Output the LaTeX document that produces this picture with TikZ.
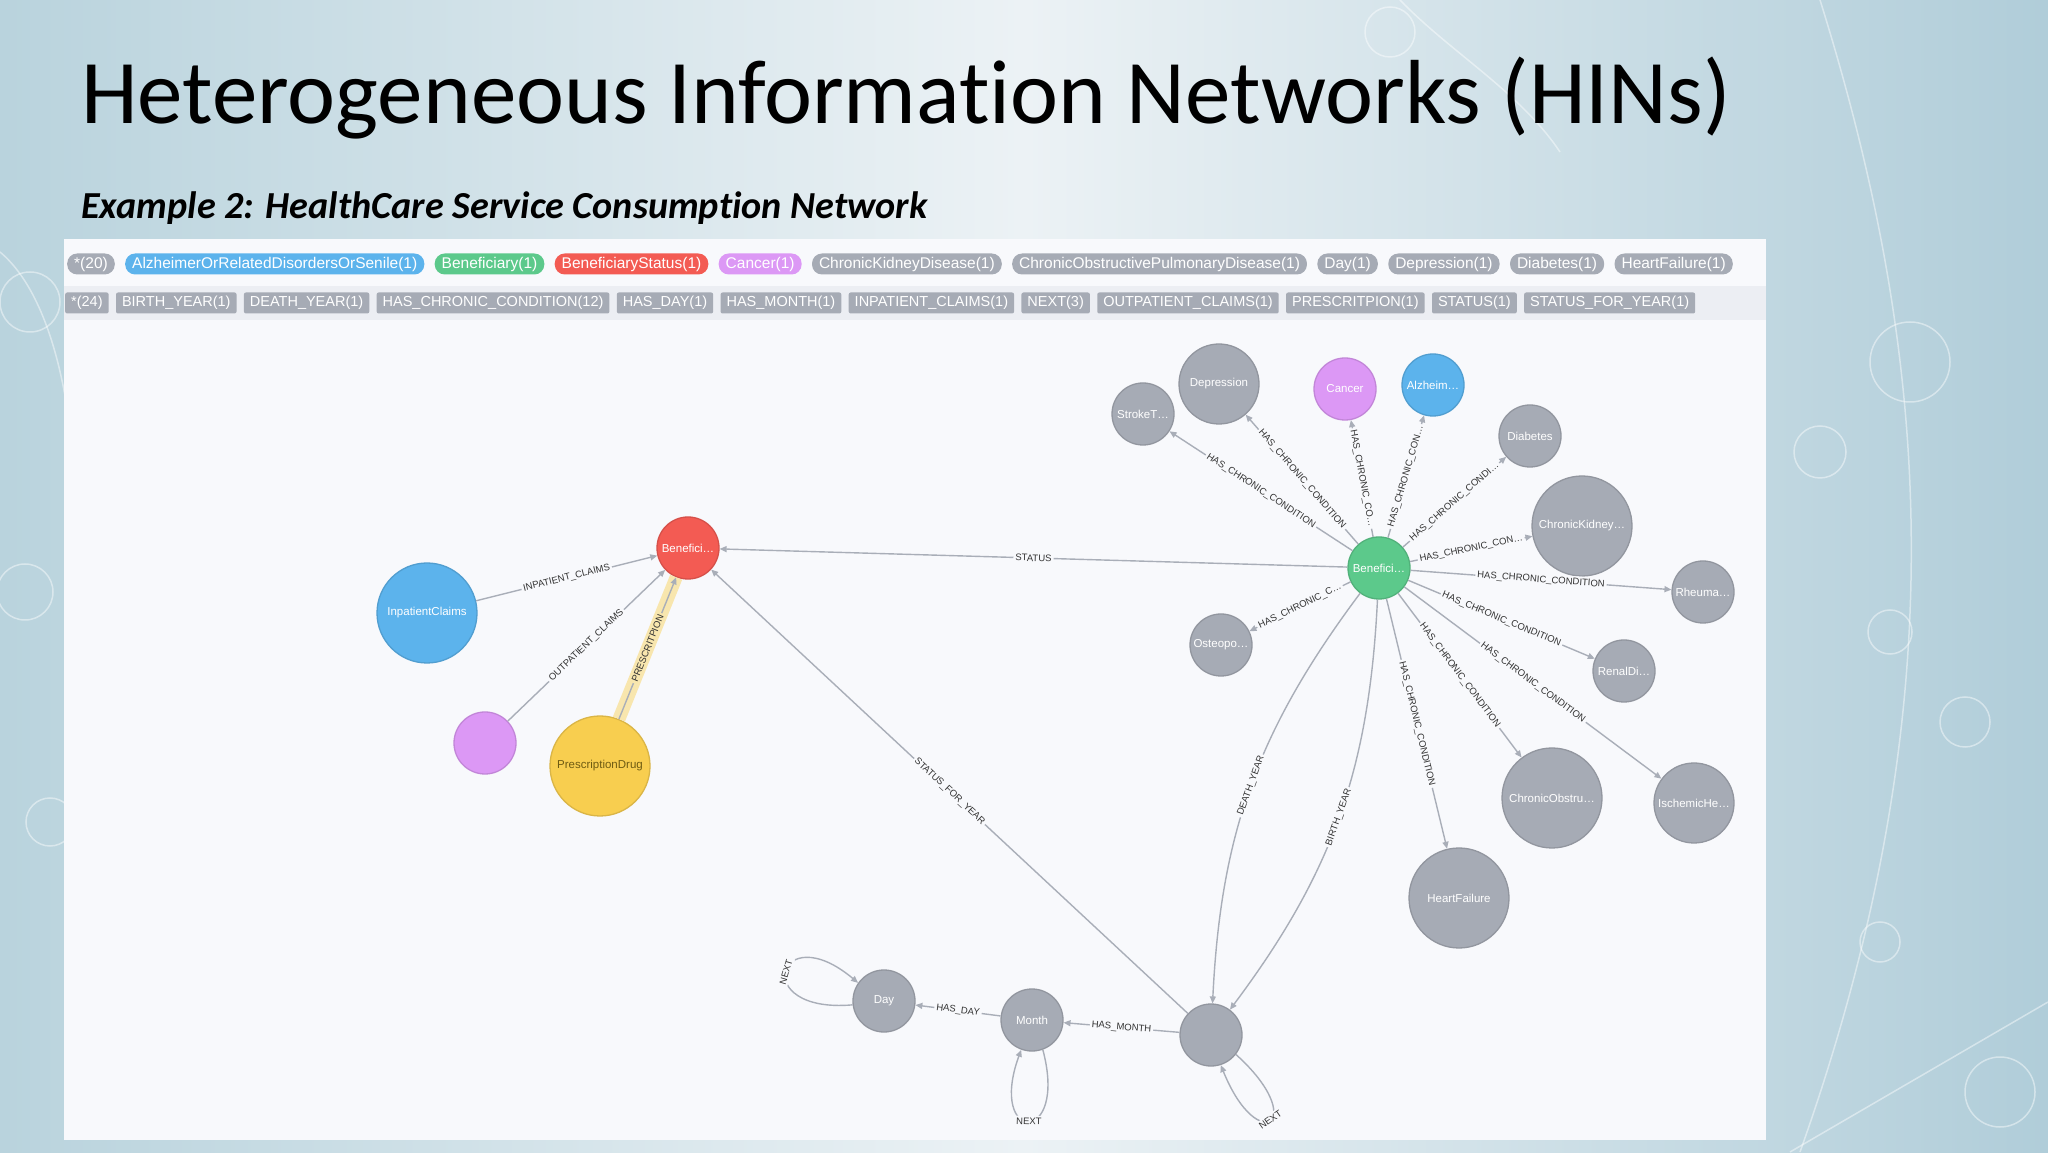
\documentclass[tikz,border=0pt]{standalone}
\usepackage{fontspec}
\setmainfont{Liberation Sans}
\newfontfamily\slidefont[Ligatures=CommonOff]{Carlito}
\usetikzlibrary{arrows.meta,positioning}

\definecolor{bgside}{HTML}{B9D3DD}
\definecolor{bgmid}{HTML}{ECF2F5}
\definecolor{bgright}{HTML}{B0CDD9}
\definecolor{panel}{HTML}{F8F9FC}
\definecolor{band}{HTML}{ECEEF3}
\definecolor{nblue}{HTML}{5CB3EC}
\definecolor{ngreen}{HTML}{5CC98B}
\definecolor{nred}{HTML}{F35B53}
\definecolor{npurple}{HTML}{DC98F5}
\definecolor{ngray}{HTML}{A6ABB5}
\definecolor{nyellow}{HTML}{F8CE4F}
\definecolor{wire}{HTML}{A9AEB8}
\definecolor{druglabel}{HTML}{6E5B12}

\begin{document}
\begin{tikzpicture}[x=1pt, y=1pt,
    pill/.style={rounded corners=10pt, minimum height=21pt, inner xsep=7pt, inner ysep=0pt, text=white, font=\fontsize{15.5}{15.5}\selectfont},
    tab/.style={rounded corners=2pt, minimum height=21pt, inner xsep=6pt, inner ysep=0pt, fill=ngray, text=white, font=\fontsize{14.5}{14.5}\selectfont},
    ent/.style={circle, line width=1.3pt, inner sep=0pt, text=white, font=\fontsize{11.5}{11.5}\selectfont},
    sm/.style={minimum size=62pt},
    md/.style={minimum size=80pt},
    lg/.style={minimum size=100pt},
    grayent/.style={ent, fill=ngray, draw=ngray!88!black},
    blueent/.style={ent, fill=nblue, draw=nblue!88!black},
    greenent/.style={ent, fill=ngreen, draw=ngreen!88!black},
    redent/.style={ent, fill=nred, draw=nred!88!black},
    purpleent/.style={ent, fill=npurple, draw=npurple!88!black},
    yellowent/.style={ent, fill=nyellow, draw=nyellow!88!black, text=druglabel},
    link/.style={draw=wire, line width=1.4pt, -{Triangle[length=7pt, width=6pt]}},
    tag/.style={sloped, fill=panel, inner sep=2pt, text=black!80, font=\fontsize{9.5}{9.5}\selectfont},
    glow/.style={line width=13pt, nyellow!45!panel},
    deco/.style={white, opacity=0.45, line width=1.5pt}
]
\useasboundingbox (0,0) rectangle (2048,1152);
\shade[left color=bgside, right color=bgright, middle color=bgmid] (0,0) rectangle (2048,1152);

\draw[deco] (1820,1152) .. controls (1930,800) and (1960,450) .. (1800,0);
\draw[deco] (1790,0) -- (2048,150);
\draw[deco] (1400,1152) .. controls (1450,1100) and (1520,1060) .. (1560,1000);
\draw[deco] (0,900) .. controls (60,850) and (90,700) .. (70,500);
\draw[deco] (1820,700) circle (26);
\draw[deco] (1910,790) circle (40);
\draw[deco] (1890,520) circle (22);
\draw[deco] (1965,430) circle (25);
\draw[deco] (1880,210) circle (20);
\draw[deco] (2000,60) circle (35);
\draw[deco] (30,850) circle (30);
\draw[deco] (25,560) circle (28);
\draw[deco] (50,330) circle (24);
\draw[deco] (1390,1120) circle (25);

\fill[panel] (64,12) rectangle (1766,913);
\fill[band] (64,866) rectangle (1766,832);

\node[anchor=base west, inner sep=0pt, font=\slidefont\fontsize{91}{91}\selectfont] (title) at (81,1028) {Heterogeneous Information Networks (HINs)};
\node[anchor=base west, inner sep=0pt, font=\slidefont\bfseries\itshape\fontsize{38.2}{38.2}\selectfont] (subtitle) at (81,933) {Example 2: HealthCare Service Consumption Network};

\node[pill, fill=ngray, anchor=west] (allnodes) at (67,888) {*(20)};
\node[pill, fill=nblue, right=10pt of allnodes] (lalz) {AlzheimerOrRelatedDisordersOrSenile(1)};
\node[pill, fill=ngreen, right=10pt of lalz] (lbenef) {Beneficiary(1)};
\node[pill, fill=nred, right=10pt of lbenef] (lstat) {BeneficiaryStatus(1)};
\node[pill, fill=npurple, right=10pt of lstat] (lcancer) {Cancer(1)};
\node[pill, fill=ngray, right=10pt of lcancer] (lkidney) {ChronicKidneyDisease(1)};
\node[pill, fill=ngray, right=10pt of lkidney] (lcopd) {ChronicObstructivePulmonaryDisease(1)};
\node[pill, fill=ngray, right=10pt of lcopd] (lday) {Day(1)};
\node[pill, fill=ngray, right=10pt of lday] (ldepress) {Depression(1)};
\node[pill, fill=ngray, right=10pt of ldepress] (ldiab) {Diabetes(1)};
\node[pill, fill=ngray, right=10pt of ldiab] (lheart) {HeartFailure(1)};

\node[tab, anchor=west] (allrels) at (65,849) {*(24)};
\node[tab, right=7pt of allrels] (rbirth) {BIRTH\_YEAR(1)};
\node[tab, right=7pt of rbirth] (rdeath) {DEATH\_YEAR(1)};
\node[tab, right=7pt of rdeath] (rchronic) {HAS\_CHRONIC\_CONDITION(12)};
\node[tab, right=7pt of rchronic] (rday) {HAS\_DAY(1)};
\node[tab, right=7pt of rday] (rmonth) {HAS\_MONTH(1)};
\node[tab, right=7pt of rmonth] (rinpat) {INPATIENT\_CLAIMS(1)};
\node[tab, right=7pt of rinpat] (rnext) {NEXT(3)};
\node[tab, right=7pt of rnext] (routpat) {OUTPATIENT\_CLAIMS(1)};
\node[tab, right=7pt of routpat] (rpresc) {PRESCRITPION(1)};
\node[tab, right=7pt of rpresc] (rstatus) {STATUS(1)};
\node[tab, right=7pt of rstatus] (rsfy) {STATUS\_FOR\_YEAR(1)};

\node[redent, sm] (stat) at (688,604) {Benefici\ldots};
\node[blueent, lg] (inpat) at (427,539) {InpatientClaims};
\node[purpleent, sm] (outpat) at (485,409) {};
\node[yellowent, lg] (presc) at (600,386) {PrescriptionDrug};
\node[greenent, sm] (benef) at (1379,584) {Benefici\ldots};
\node[grayent, sm] (stroke) at (1143,738) {StrokeT\ldots};
\node[grayent, md] (depress) at (1219,768) {Depression};
\node[purpleent, sm] (cancer) at (1345,763) {Cancer};
\node[blueent, sm] (alzh) at (1433,767) {Alzheim\ldots};
\node[grayent, sm] (diab) at (1530,716) {Diabetes};
\node[grayent, lg] (kidney) at (1582,626) {ChronicKidney\ldots};
\node[grayent, sm] (rheuma) at (1703,560) {Rheuma\ldots};
\node[grayent, sm] (renal) at (1624,481) {RenalDi\ldots};
\node[grayent, md] (ischem) at (1694,349) {IschemicHe\ldots};
\node[grayent, lg] (copd) at (1552,354) {ChronicObstru\ldots};
\node[grayent, lg] (heart) at (1459,254) {HeartFailure};
\node[grayent, sm] (osteo) at (1221,507) {Osteopo\ldots};
\node[grayent, sm] (year) at (1211,117) {};
\node[grayent, sm] (month) at (1032,132) {Month};
\node[grayent, sm] (day) at (884,151) {Day};

\draw[link] (inpat) -- node[tag] {INPATIENT\_CLAIMS} (stat);
\draw[link] (outpat) -- node[tag] {OUTPATIENT\_CLAIMS} (stat);
\draw[glow] (presc) -- (stat);
\draw[link] (presc) -- node[tag, fill=nyellow!45!panel] {PRESCRITPION} (stat);
\draw[link] (benef) -- node[tag] {STATUS} (stat);
\draw[link] (year) -- node[tag] {STATUS\_FOR\_YEAR} (stat);

\draw[link] (benef) -- node[tag] {HAS\_CHRONIC\_CONDITION} (stroke);
\draw[link] (benef) -- node[tag] {HAS\_CHRONIC\_CONDITION} (depress);
\draw[link] (benef) -- node[tag] {HAS\_CHRONIC\_CO\ldots} (cancer);
\draw[link] (benef) -- node[tag] {HAS\_CHRONIC\_CON\ldots} (alzh);
\draw[link] (benef) -- node[tag] {HAS\_CHRONIC\_CONDI\ldots} (diab);
\draw[link] (benef) -- node[tag] {HAS\_CHRONIC\_CON\ldots} (kidney);
\draw[link] (benef) -- node[tag] {HAS\_CHRONIC\_CONDITION} (rheuma);
\draw[link] (benef) -- node[tag] {HAS\_CHRONIC\_CONDITION} (renal);
\draw[link] (benef) -- node[tag] {HAS\_CHRONIC\_CONDITION} (ischem);
\draw[link] (benef) -- node[tag] {HAS\_CHRONIC\_CONDITION} (copd);
\draw[link] (benef) -- node[tag] {HAS\_CHRONIC\_CONDITION} (heart);
\draw[link] (benef) -- node[tag] {HAS\_CHRONIC\_C\ldots} (osteo);

\draw[link] (benef) to[bend right=17] node[tag] {DEATH\_YEAR} (year);
\draw[link] (benef) to[bend left=17] node[tag] {BIRTH\_YEAR} (year);
\draw[link] (year) -- node[tag] {HAS\_MONTH} (month);
\draw[link] (month) -- node[tag] {HAS\_DAY} (day);

\draw[link] (day.187) .. controls +(185:105) and +(140:105) .. (day.145) node[tag, pos=0.5] {NEXT};
\draw[link] (month.290) .. controls +(285:100) and +(250:100) .. (month.250) node[tag, pos=0.5] {NEXT};
\draw[link] (year.322) .. controls +(318:100) and +(292:100) .. (year.288) node[tag, pos=0.5] {NEXT};
\end{tikzpicture}
\end{document}
